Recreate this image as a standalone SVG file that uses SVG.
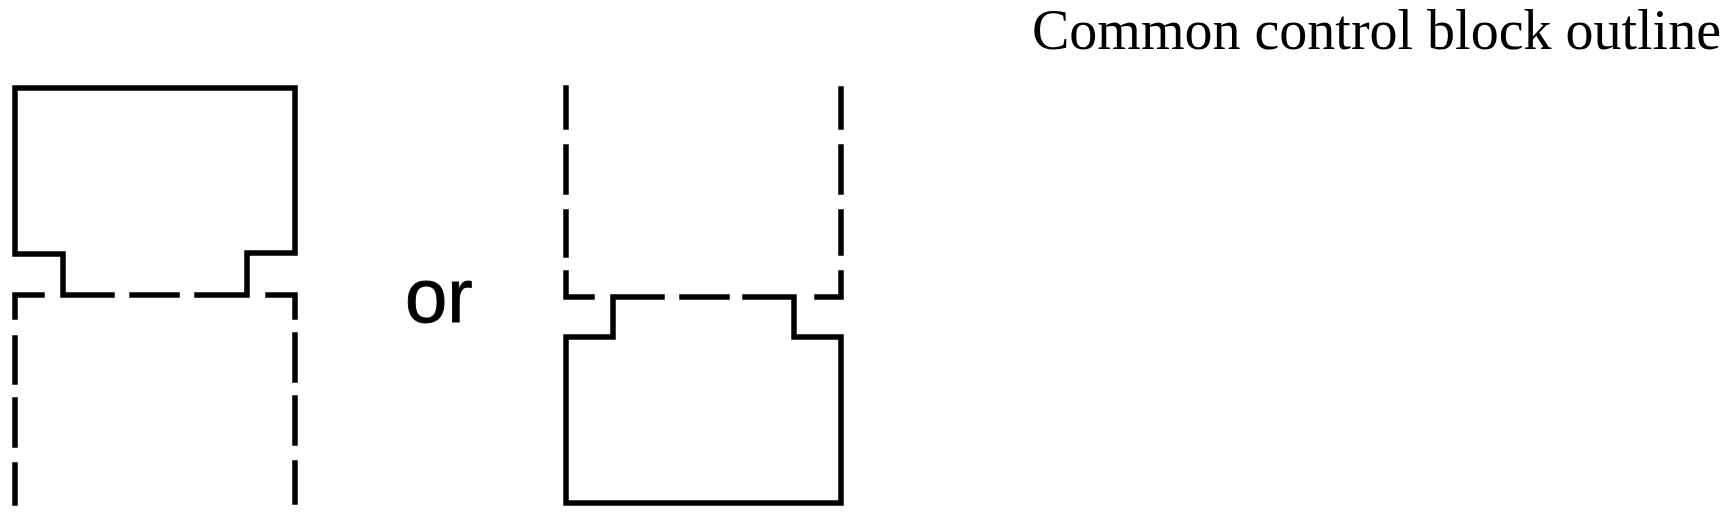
<svg xmlns="http://www.w3.org/2000/svg" width="1730" height="517" viewBox="0 0 1730 517">
<style>
.ln{fill:none;stroke:#000;stroke-width:5.5;stroke-linejoin:miter;stroke-linecap:square}
.title{font-family:"Liberation Sans",Arial,sans-serif;font-size:56px;fill:#000}
.title{font-family:"Liberation Serif","Times New Roman",serif}
.lbl{font-family:"Liberation Sans",Arial,sans-serif;font-size:76px;fill:#000;stroke:#000;stroke-width:0.9}
</style>
<rect width="1730" height="517" fill="#fff"/>
<text class="title" x="1032" y="49">Common control block outline</text>
<g id="left-figure">
<g id="left-solid-block">
<path class="ln" d="M112,295 H63 V254 H15 V88 H295 V253 H247 V295 H197"/>
<path class="ln" d="M132,295 H177"/>
</g>
<g id="left-dashed-block">
<path class="ln" d="M42,295 H15 V317"/>
<path class="ln" d="M15,338 V382 M15,400 V445 M15,465 V503"/>
<path class="ln" d="M268,295 H295 V317"/>
<path class="ln" d="M295,335 V380 M295,398 V443 M295,463 V502"/>
</g>
</g>
<g id="or-label">
<text class="lbl" x="405" y="322">or</text>
</g>
<g id="right-figure">
<g id="right-dashed-block">
<path class="ln" d="M566,88 V127 M566,147 V192 M566,212 V255"/>
<path class="ln" d="M566,273 V297 H592"/>
<path class="ln" d="M841,89 V127 M841,147 V192 M841,212 V253"/>
<path class="ln" d="M841,273 V297 H817"/>
</g>
<g id="right-solid-block">
<path class="ln" d="M662,297 H613 V337 H566 V503 H841 V337 H794 V297 H745"/>
<path class="ln" d="M682,297 H727"/>
</g>
</g>
</svg>
